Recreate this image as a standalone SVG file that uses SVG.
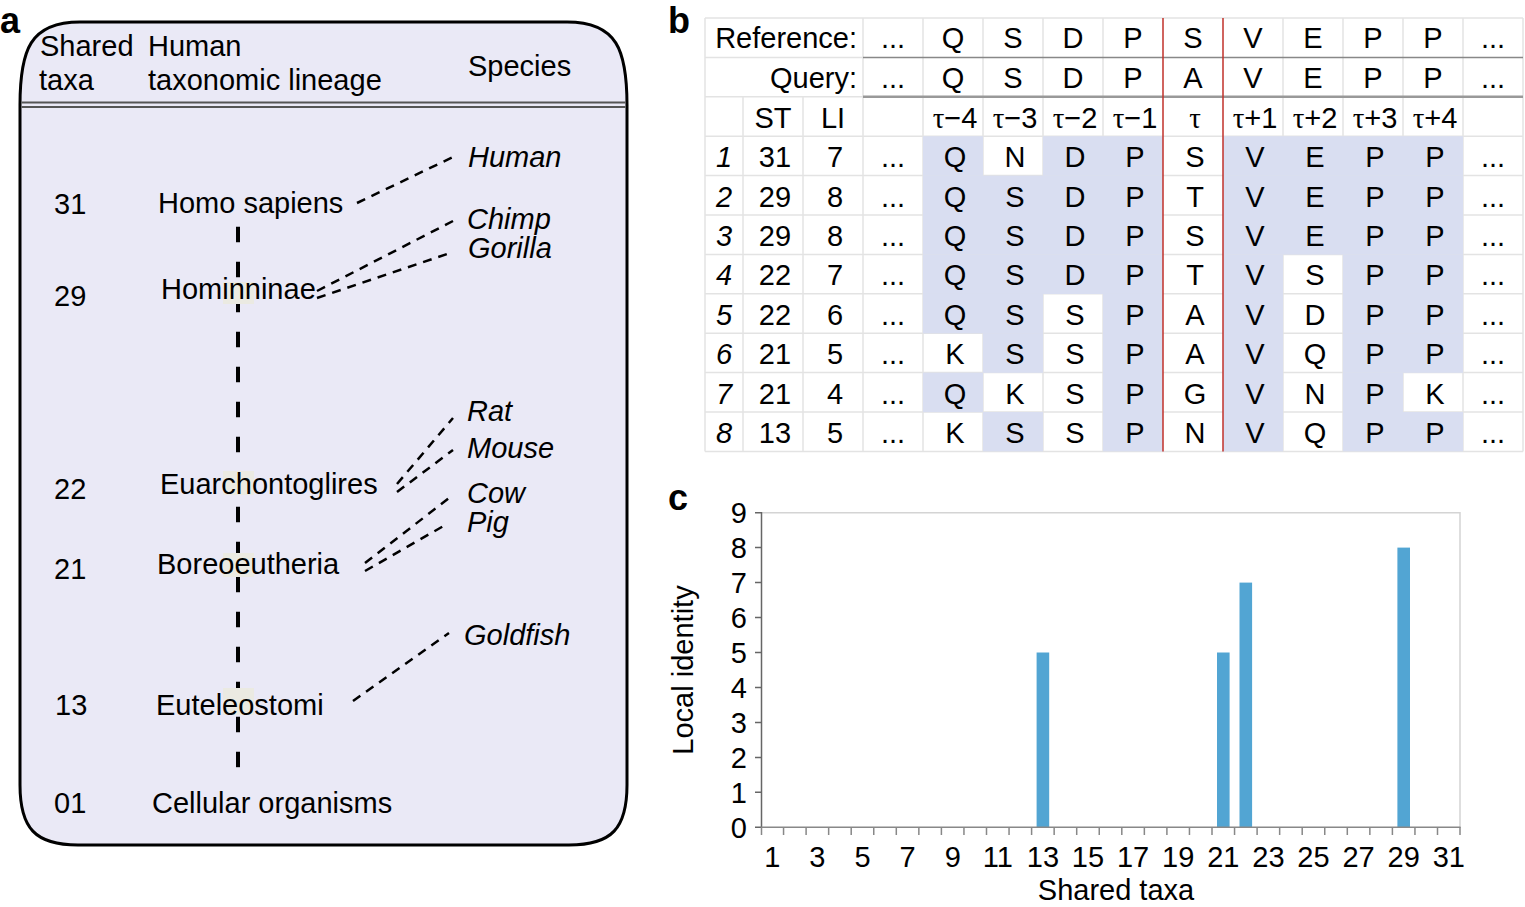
<svg xmlns="http://www.w3.org/2000/svg" width="1525" height="907" viewBox="0 0 1525 907">
<style>
text{font-family:"Liberation Sans",Arial,sans-serif;font-size:29px;fill:#000}
.lbl{font-weight:bold;font-size:36px}
.sp{font-style:italic}
.c{text-anchor:middle}
.e{text-anchor:end}
.it{font-style:italic}
.conn{stroke:#000;stroke-width:2.5;stroke-dasharray:9 7;fill:none}
.grid{stroke:#e3e3e3;stroke-width:1.5;fill:none}
.hl{fill:#d9def1}
.tau{font-family:"Liberation Serif","Times New Roman",serif}
.beige{fill:#ebeae2}
.bar{fill:#52a5d3}
</style>
<rect x="0" y="0" width="1525" height="907" fill="#fff"/>

<!-- Panel labels -->
<text class="lbl" x="0" y="33">a</text>
<text class="lbl" x="668" y="33">b</text>
<text class="lbl" x="668" y="510">c</text>

<!-- Panel a -->
<g id="panel-a-frame">
<path d="M20 105C20 50 30 22 80 22H567C617 22 627 50 627 105V785C627 828 612 845 569 845H78C35 845 20 828 20 785Z" fill="#eae9f6" stroke="#000" stroke-width="3"/>
<line x1="21.5" y1="102.5" x2="625.5" y2="102.5" stroke="#555" stroke-width="2"/>
<line x1="21.5" y1="107" x2="625.5" y2="107" stroke="#555" stroke-width="2"/>
</g>
<g id="panel-a-header">
<text x="40" y="56">Shared</text>
<text x="39" y="90">taxa</text>
<text x="148" y="56">Human</text>
<text x="148" y="90">taxonomic lineage</text>
<text x="468" y="76">Species</text>
</g>
<g id="lineage-axis">
<line x1="238" y1="226.7" x2="238" y2="770" stroke="#000" stroke-width="4" stroke-dasharray="15.5 19.5"/>
<rect class="beige" x="223" y="282" width="31" height="22"/>
<rect class="beige" x="223" y="471" width="31" height="24"/>
<rect class="beige" x="223" y="553" width="31" height="24"/>
<rect class="beige" x="223" y="688" width="31" height="27"/>
</g>
<g id="node-homo-sapiens"><text x="54" y="214">31</text><text x="158" y="213">Homo sapiens</text></g>
<g id="node-homininae"><text x="54" y="306">29</text><text x="161" y="299">Hominninae</text></g>
<g id="node-euarchontoglires"><text x="54" y="499">22</text><text x="160" y="494">Euarchontoglires</text></g>
<g id="node-boreoeutheria"><text x="54" y="579">21</text><text x="157" y="574">Boreoeutheria</text></g>
<g id="node-euteleostomi"><text x="55" y="715">13</text><text x="156" y="715">Euteleostomi</text></g>
<g id="node-cellular"><text x="54" y="813">01</text><text x="152" y="813">Cellular organisms</text></g>
<g id="species-human"><text class="sp" x="468" y="167">Human</text></g>
<g id="species-chimp"><text class="sp" x="467" y="229">Chimp</text></g>
<g id="species-gorilla"><text class="sp" x="468" y="258">Gorilla</text></g>
<g id="species-rat"><text class="sp" x="467" y="421">Rat</text></g>
<g id="species-mouse"><text class="sp" x="467" y="458">Mouse</text></g>
<g id="species-cow"><text class="sp" x="467" y="503">Cow</text></g>
<g id="species-pig"><text class="sp" x="467" y="532">Pig</text></g>
<g id="species-goldfish"><text class="sp" x="464" y="645">Goldfish</text></g>
<g id="connectors">
<line class="conn" x1="357" y1="203" x2="453" y2="157"/>
<line class="conn" x1="317" y1="291" x2="453" y2="221"/>
<line class="conn" x1="317" y1="298" x2="447" y2="254"/>
<line class="conn" x1="397" y1="484" x2="453" y2="418"/>
<line class="conn" x1="397" y1="492" x2="453" y2="450"/>
<line class="conn" x1="365" y1="563" x2="453" y2="495"/>
<line class="conn" x1="365" y1="571" x2="447" y2="524"/>
<line class="conn" x1="353" y1="701" x2="449" y2="633"/>
</g>

<!-- Panel b table -->
<g id="table-grid">
<path class="grid" d="M705 18H1523M705 57.4H863M705 96.8H863M705 136.2H1523M705 175.6H1523M705 215H1523M705 254.4H1523M705 293.8H1523M705 333.2H1523M705 372.6H1523M705 412H1523M705 451.4H1523"/>
<path class="grid" d="M705 18V451.4M743 96.8V451.4M803 96.8V451.4M863 18V451.4M923 18V451.4M983 18V451.4M1043 18V451.4M1103 18V451.4M1283 18V451.4M1343 18V451.4M1403 18V451.4M1463 18V451.4M1523 18V451.4"/>
</g>
<g id="table-highlights">
<rect class="hl" x="923" y="136.2" width="60" height="39.6"/>
<rect class="hl" x="1043" y="136.2" width="120" height="39.6"/>
<rect class="hl" x="1223" y="136.2" width="240" height="39.6"/>
<rect class="hl" x="923" y="175.6" width="240" height="79"/>
<rect class="hl" x="1223" y="175.6" width="240" height="79"/>
<rect class="hl" x="923" y="254.4" width="240" height="39.6"/>
<rect class="hl" x="1223" y="254.4" width="60" height="39.6"/>
<rect class="hl" x="1343" y="254.4" width="120" height="79"/>
<rect class="hl" x="923" y="293.8" width="120" height="39.6"/>
<rect class="hl" x="1103" y="293.8" width="60" height="157.6"/>
<rect class="hl" x="1223" y="293.8" width="60" height="157.6"/>
<rect class="hl" x="983" y="333.2" width="60" height="39.6"/>
<rect class="hl" x="1343" y="333.2" width="120" height="39.6"/>
<rect class="hl" x="923" y="372.6" width="60" height="39.6"/>
<rect class="hl" x="1343" y="372.6" width="60" height="39.6"/>
<rect class="hl" x="983" y="412" width="60" height="39.4"/>
<rect class="hl" x="1343" y="412" width="120" height="39.4"/>
</g>
<g id="table-rules">
<line x1="863" y1="57.4" x2="1523" y2="57.4" stroke="#888" stroke-width="1.5"/>
<line x1="863" y1="96.8" x2="1523" y2="96.8" stroke="#999" stroke-width="2.5"/>
<line x1="1163" y1="18" x2="1163" y2="451.4" stroke="#c0302a" stroke-width="1.5"/>
<line x1="1223" y1="18" x2="1223" y2="451.4" stroke="#c0302a" stroke-width="1.5"/>
</g>
<g id="table-reference">
<text class="e" x="857" y="48">Reference:</text>
<text class="c" x="893" y="48">...</text>
<text class="c" x="953" y="48">Q</text><text class="c" x="1013" y="48">S</text><text class="c" x="1073" y="48">D</text><text class="c" x="1133" y="48">P</text><text class="c" x="1193" y="48">S</text><text class="c" x="1253" y="48">V</text><text class="c" x="1313" y="48">E</text><text class="c" x="1373" y="48">P</text><text class="c" x="1433" y="48">P</text>
<text class="c" x="1493" y="48">...</text>
</g>
<g id="table-query">
<text class="e" x="857" y="88">Query:</text>
<text class="c" x="893" y="88">...</text>
<text class="c" x="953" y="88">Q</text><text class="c" x="1013" y="88">S</text><text class="c" x="1073" y="88">D</text><text class="c" x="1133" y="88">P</text><text class="c" x="1193" y="88">A</text><text class="c" x="1253" y="88">V</text><text class="c" x="1313" y="88">E</text><text class="c" x="1373" y="88">P</text><text class="c" x="1433" y="88">P</text>
<text class="c" x="1493" y="88">...</text>
</g>
<g id="table-header">
<text class="c" x="773" y="128">ST</text><text class="c" x="833" y="128">LI</text>
<text class="c" x="955" y="128"><tspan class="tau">τ</tspan>−4</text>
<text class="c" x="1015" y="128"><tspan class="tau">τ</tspan>−3</text>
<text class="c" x="1075" y="128"><tspan class="tau">τ</tspan>−2</text>
<text class="c" x="1135" y="128"><tspan class="tau">τ</tspan>−1</text>
<text class="c" x="1195" y="128"><tspan class="tau">τ</tspan></text>
<text class="c" x="1255" y="128"><tspan class="tau">τ</tspan>+1</text>
<text class="c" x="1315" y="128"><tspan class="tau">τ</tspan>+2</text>
<text class="c" x="1375" y="128"><tspan class="tau">τ</tspan>+3</text>
<text class="c" x="1435" y="128"><tspan class="tau">τ</tspan>+4</text>
</g>
<g id="row-1">
<text class="c it" x="724" y="167.2">1</text><text class="c" x="775" y="167.2">31</text><text class="c" x="835" y="167.2">7</text><text class="c" x="893" y="167.2">...</text>
<text class="c" x="955" y="167.2">Q</text><text class="c" x="1015" y="167.2">N</text><text class="c" x="1075" y="167.2">D</text><text class="c" x="1135" y="167.2">P</text><text class="c" x="1195" y="167.2">S</text><text class="c" x="1255" y="167.2">V</text><text class="c" x="1315" y="167.2">E</text><text class="c" x="1375" y="167.2">P</text><text class="c" x="1435" y="167.2">P</text><text class="c" x="1493" y="167.2">...</text>
</g>
<g id="row-2">
<text class="c it" x="724" y="206.6">2</text><text class="c" x="775" y="206.6">29</text><text class="c" x="835" y="206.6">8</text><text class="c" x="893" y="206.6">...</text>
<text class="c" x="955" y="206.6">Q</text><text class="c" x="1015" y="206.6">S</text><text class="c" x="1075" y="206.6">D</text><text class="c" x="1135" y="206.6">P</text><text class="c" x="1195" y="206.6">T</text><text class="c" x="1255" y="206.6">V</text><text class="c" x="1315" y="206.6">E</text><text class="c" x="1375" y="206.6">P</text><text class="c" x="1435" y="206.6">P</text><text class="c" x="1493" y="206.6">...</text>
</g>
<g id="row-3">
<text class="c it" x="724" y="246">3</text><text class="c" x="775" y="246">29</text><text class="c" x="835" y="246">8</text><text class="c" x="893" y="246">...</text>
<text class="c" x="955" y="246">Q</text><text class="c" x="1015" y="246">S</text><text class="c" x="1075" y="246">D</text><text class="c" x="1135" y="246">P</text><text class="c" x="1195" y="246">S</text><text class="c" x="1255" y="246">V</text><text class="c" x="1315" y="246">E</text><text class="c" x="1375" y="246">P</text><text class="c" x="1435" y="246">P</text><text class="c" x="1493" y="246">...</text>
</g>
<g id="row-4">
<text class="c it" x="724" y="285.4">4</text><text class="c" x="775" y="285.4">22</text><text class="c" x="835" y="285.4">7</text><text class="c" x="893" y="285.4">...</text>
<text class="c" x="955" y="285.4">Q</text><text class="c" x="1015" y="285.4">S</text><text class="c" x="1075" y="285.4">D</text><text class="c" x="1135" y="285.4">P</text><text class="c" x="1195" y="285.4">T</text><text class="c" x="1255" y="285.4">V</text><text class="c" x="1315" y="285.4">S</text><text class="c" x="1375" y="285.4">P</text><text class="c" x="1435" y="285.4">P</text><text class="c" x="1493" y="285.4">...</text>
</g>
<g id="row-5">
<text class="c it" x="724" y="324.8">5</text><text class="c" x="775" y="324.8">22</text><text class="c" x="835" y="324.8">6</text><text class="c" x="893" y="324.8">...</text>
<text class="c" x="955" y="324.8">Q</text><text class="c" x="1015" y="324.8">S</text><text class="c" x="1075" y="324.8">S</text><text class="c" x="1135" y="324.8">P</text><text class="c" x="1195" y="324.8">A</text><text class="c" x="1255" y="324.8">V</text><text class="c" x="1315" y="324.8">D</text><text class="c" x="1375" y="324.8">P</text><text class="c" x="1435" y="324.8">P</text><text class="c" x="1493" y="324.8">...</text>
</g>
<g id="row-6">
<text class="c it" x="724" y="364.2">6</text><text class="c" x="775" y="364.2">21</text><text class="c" x="835" y="364.2">5</text><text class="c" x="893" y="364.2">...</text>
<text class="c" x="955" y="364.2">K</text><text class="c" x="1015" y="364.2">S</text><text class="c" x="1075" y="364.2">S</text><text class="c" x="1135" y="364.2">P</text><text class="c" x="1195" y="364.2">A</text><text class="c" x="1255" y="364.2">V</text><text class="c" x="1315" y="364.2">Q</text><text class="c" x="1375" y="364.2">P</text><text class="c" x="1435" y="364.2">P</text><text class="c" x="1493" y="364.2">...</text>
</g>
<g id="row-7">
<text class="c it" x="724" y="403.6">7</text><text class="c" x="775" y="403.6">21</text><text class="c" x="835" y="403.6">4</text><text class="c" x="893" y="403.6">...</text>
<text class="c" x="955" y="403.6">Q</text><text class="c" x="1015" y="403.6">K</text><text class="c" x="1075" y="403.6">S</text><text class="c" x="1135" y="403.6">P</text><text class="c" x="1195" y="403.6">G</text><text class="c" x="1255" y="403.6">V</text><text class="c" x="1315" y="403.6">N</text><text class="c" x="1375" y="403.6">P</text><text class="c" x="1435" y="403.6">K</text><text class="c" x="1493" y="403.6">...</text>
</g>
<g id="row-8">
<text class="c it" x="724" y="443">8</text><text class="c" x="775" y="443">13</text><text class="c" x="835" y="443">5</text><text class="c" x="893" y="443">...</text>
<text class="c" x="955" y="443">K</text><text class="c" x="1015" y="443">S</text><text class="c" x="1075" y="443">S</text><text class="c" x="1135" y="443">P</text><text class="c" x="1195" y="443">N</text><text class="c" x="1255" y="443">V</text><text class="c" x="1315" y="443">Q</text><text class="c" x="1375" y="443">P</text><text class="c" x="1435" y="443">P</text><text class="c" x="1493" y="443">...</text>
</g>

<!-- Panel c chart -->
<g id="chart-frame">
<path d="M761.5 512.7H1460V827.3" fill="none" stroke="#d4d4d4" stroke-width="1.5"/>
</g>
<g id="chart-bars">
<rect class="bar" x="1036.6" y="652.5" width="12.6" height="174.8"/>
<rect class="bar" x="1217" y="652.5" width="12.6" height="174.8"/>
<rect class="bar" x="1239.5" y="582.6" width="12.6" height="244.7"/>
<rect class="bar" x="1397.4" y="547.6" width="12.6" height="279.7"/>
</g>
<g id="chart-axes">
<line x1="761.5" y1="512" x2="761.5" y2="828" stroke="#666" stroke-width="1.5"/>
<line x1="761" y1="827.3" x2="1460.5" y2="827.3" stroke="#888" stroke-width="1.5"/>
<path d="M755 512.7H761.5M755 547.6H761.5M755 582.6H761.5M755 617.5H761.5M755 652.5H761.5M755 687.5H761.5M755 722.4H761.5M755 757.4H761.5M755 792.3H761.5M755 827.3H761.5" stroke="#666" stroke-width="1.5"/>
<path d="M761.5 827v8M783.55 827v8M806.1 827v8M828.65 827v8M851.2 827v8M873.75 827v8M896.3 827v8M918.85 827v8M941.4 827v8M963.95 827v8M986.5 827v8M1009.05 827v8M1031.6 827v8M1054.15 827v8M1076.7 827v8M1099.25 827v8M1121.8 827v8M1144.35 827v8M1166.9 827v8M1189.45 827v8M1212 827v8M1234.55 827v8M1257.1 827v8M1279.65 827v8M1302.2 827v8M1324.75 827v8M1347.3 827v8M1369.85 827v8M1392.4 827v8M1414.95 827v8M1437.5 827v8M1460 827v8" stroke="#888" stroke-width="1.5"/>
</g>
<g id="chart-y-labels">
<text class="e" x="747" y="523">9</text>
<text class="e" x="747" y="558">8</text>
<text class="e" x="747" y="593">7</text>
<text class="e" x="747" y="628">6</text>
<text class="e" x="747" y="663">5</text>
<text class="e" x="747" y="698">4</text>
<text class="e" x="747" y="733">3</text>
<text class="e" x="747" y="768">2</text>
<text class="e" x="747" y="803">1</text>
<text class="e" x="747" y="838">0</text>
</g>
<g id="chart-x-labels">
<text class="c" x="772.3" y="867">1</text>
<text class="c" x="817.4" y="867">3</text>
<text class="c" x="862.5" y="867">5</text>
<text class="c" x="907.6" y="867">7</text>
<text class="c" x="952.7" y="867">9</text>
<text class="c" x="997.8" y="867">11</text>
<text class="c" x="1042.9" y="867">13</text>
<text class="c" x="1088" y="867">15</text>
<text class="c" x="1133.1" y="867">17</text>
<text class="c" x="1178.2" y="867">19</text>
<text class="c" x="1223.3" y="867">21</text>
<text class="c" x="1268.4" y="867">23</text>
<text class="c" x="1313.5" y="867">25</text>
<text class="c" x="1358.6" y="867">27</text>
<text class="c" x="1403.7" y="867">29</text>
<text class="c" x="1448.8" y="867">31</text>
</g>
<g id="chart-titles">
<text class="c" x="1116" y="900">Shared taxa</text>
<text class="c" transform="translate(693 670) rotate(-90)">Local identity</text>
</g>
</svg>
